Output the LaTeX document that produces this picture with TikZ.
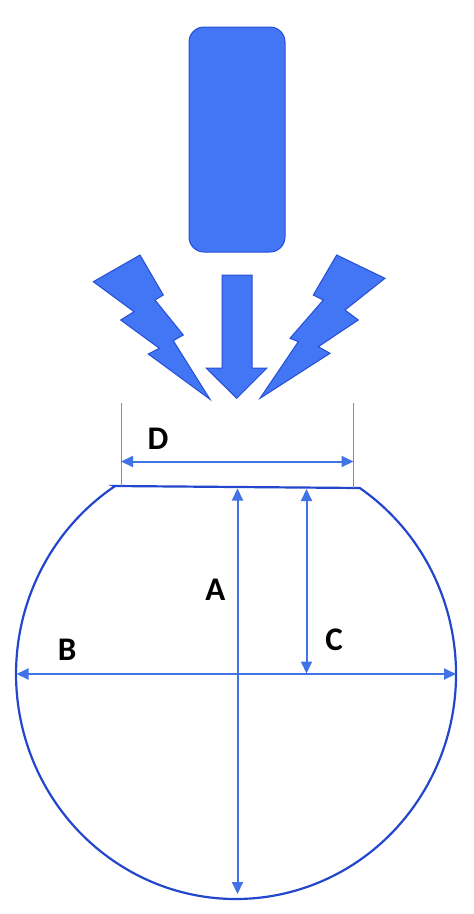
\documentclass[tikz,border=0pt]{standalone}
\usepackage{fontspec}
\setmainfont{Carlito}
\usetikzlibrary{arrows.meta}
\definecolor{fillblue}{RGB}{67,118,245}
\definecolor{edgeblue}{RGB}{38,78,212}
\definecolor{dimblue}{RGB}{64,114,232}
\definecolor{extblue}{RGB}{100,140,238}
\definecolor{circblue}{RGB}{35,70,205}
\begin{document}
\begin{tikzpicture}[x=1pt,y=-1pt,
  bluefill/.style={fill=fillblue,draw=edgeblue,line width=1pt,line join=miter},
  dimline/.style={draw=dimblue,line width=2pt,{Triangle[length=12pt,width=11pt]}-{Triangle[length=12pt,width=11pt]}},
  extline/.style={draw=extblue,line width=1pt},
  lbl/.style={font=\bfseries\fontsize{33}{33}\selectfont,text=black,inner sep=0pt}]
\useasboundingbox (0,0) rectangle (474,914);
% lamp
\node[bluefill, rounded corners=15pt, minimum width=96pt, minimum height=225pt, inner sep=0pt] (lamp) at (237,139.5) {};
% central arrow
\draw[bluefill] (222,275) -- (252,275) -- (252,368) -- (267,368) -- (236.7,398.3) -- (206,368) -- (222,368) -- cycle;
% left bolt
\draw[bluefill] (93.3,281.7) -- (140,255) -- (163.3,295) -- (155,300) -- (183.3,335) -- (173.3,340.7) -- (210,399.3) -- (148.3,354) -- (159.3,348.3) -- (120.7,320) -- (134,311.7) -- cycle;
% right bolt
\draw[bluefill] (385,278.3) -- (336.7,255) -- (313.3,295) -- (323.3,300) -- (290,338.3) -- (298.3,341.7) -- (260,398.3) -- (330,353.3) -- (318.3,346.7) -- (358.3,320) -- (345,310) -- cycle;
% truncated sphere
\draw[circblue, line width=2.2pt, line join=miter] (115.1,486) -- (359.8,488) arc[start angle=-55.76, end angle=236.67, x radius=220, y radius=225] -- cycle;
% coordinates
\coordinate (e1t) at (121,403);
\coordinate (e1b) at (121,486);
\coordinate (e2t) at (353.5,403);
\coordinate (e2b) at (353.5,488);
\coordinate (Dl) at (121,461.5);
\coordinate (Dr) at (353.5,461.5);
\coordinate (Atop) at (237.5,488.5);
\coordinate (Abot) at (237.5,894);
\coordinate (Ctop) at (306.5,489);
\coordinate (Cbot) at (306.5,673.5);
\coordinate (Bl) at (16.5,674);
\coordinate (Br) at (456,674);
% extension lines
\draw[extline] (e1t) -- (e1b);
\draw[extline] (e2t) -- (e2b);
% dimensions
\draw[dimline] (Dl) -- (Dr);
\draw[dimline] (Atop) -- (Abot);
\draw[dimline] (Ctop) -- (Cbot);
\draw[dimline] (Bl) -- (Br);
% labels
\node[lbl] (labD) at (158,439) {D};
\node[lbl] (labA) at (215.3,589.3) {A};
\node[lbl] (labB) at (67,650) {B};
\node[lbl] (labC) at (334,640) {C};
\end{tikzpicture}
\end{document}
